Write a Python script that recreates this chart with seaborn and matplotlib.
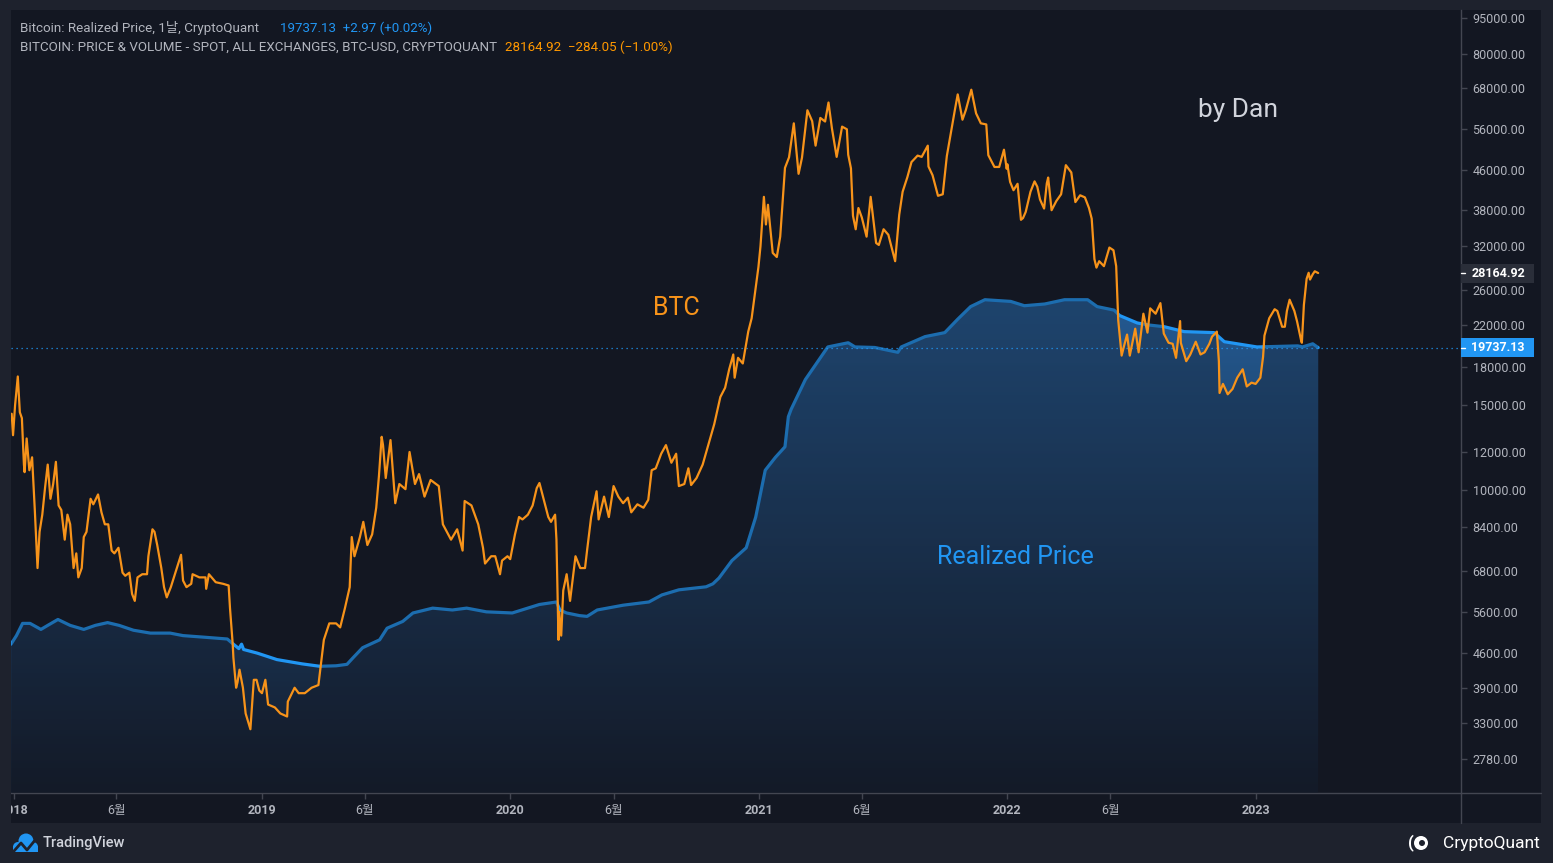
import matplotlib
matplotlib.use('Agg')
import matplotlib.pyplot as plt
import matplotlib.dates as mdates
import numpy as np
import pandas as pd
import seaborn as sns
from matplotlib.colors import LinearSegmentedColormap
from matplotlib.image import AxesImage
from matplotlib.patches import Rectangle, PathPatch, Circle
from matplotlib.lines import Line2D
from matplotlib.ticker import FixedLocator, NullLocator, FuncFormatter
from matplotlib.transforms import IdentityTransform

W, H = 1553, 863

# BTC price (CryptoQuant, all exchanges)
btc_dates = [
    '2017-12-29', '2017-12-31', '2018-01-03', '2018-01-07', '2018-01-10', '2018-01-13', '2018-01-16', '2018-01-17',
    '2018-01-20', '2018-01-24', '2018-01-28', '2018-02-01', '2018-02-05', '2018-02-08', '2018-02-12', '2018-02-16',
    '2018-02-20', '2018-02-24', '2018-02-28', '2018-03-04', '2018-03-08', '2018-03-12', '2018-03-17', '2018-03-21',
    '2018-03-25', '2018-03-30', '2018-04-03', '2018-04-06', '2018-04-11', '2018-04-14', '2018-04-18', '2018-04-24',
    '2018-04-28', '2018-05-05', '2018-05-10', '2018-05-15', '2018-05-20', '2018-05-25', '2018-05-29', '2018-06-04',
    '2018-06-10', '2018-06-14', '2018-06-20', '2018-06-24', '2018-06-28', '2018-07-02', '2018-07-09', '2018-07-16',
    '2018-07-18', '2018-07-24', '2018-07-27', '2018-07-31', '2018-08-06', '2018-08-10', '2018-08-14', '2018-08-20',
    '2018-08-26', '2018-09-04', '2018-09-07', '2018-09-12', '2018-09-19', '2018-09-21', '2018-10-01', '2018-10-10',
    '2018-10-11', '2018-10-15', '2018-10-25', '2018-11-05', '2018-11-13', '2018-11-15', '2018-11-19', '2018-11-20',
    '2018-11-24', '2018-11-26', '2018-11-29', '2018-12-04', '2018-12-08', '2018-12-15', '2018-12-20', '2018-12-24',
    '2018-12-28', '2019-01-01', '2019-01-06', '2019-01-10', '2019-01-20', '2019-01-28', '2019-02-07', '2019-02-08',
    '2019-02-18', '2019-02-24', '2019-03-05', '2019-03-15', '2019-03-25', '2019-04-02', '2019-04-10', '2019-04-20',
    '2019-04-26', '2019-05-03', '2019-05-10', '2019-05-13', '2019-05-17', '2019-05-25', '2019-05-30', '2019-06-05',
    '2019-06-12', '2019-06-18', '2019-06-22', '2019-06-26', '2019-06-28', '2019-07-02', '2019-07-09', '2019-07-16',
    '2019-07-22', '2019-07-31', '2019-08-06', '2019-08-14', '2019-08-20', '2019-08-28', '2019-09-06', '2019-09-18',
    '2019-09-24', '2019-10-06', '2019-10-15', '2019-10-23', '2019-10-26', '2019-11-05', '2019-11-15', '2019-11-22',
    '2019-11-25', '2019-12-04', '2019-12-10', '2019-12-17', '2019-12-20', '2019-12-28', '2020-01-01', '2020-01-08',
    '2020-01-14', '2020-01-19', '2020-01-27', '2020-02-03', '2020-02-09', '2020-02-13', '2020-02-19', '2020-02-26',
    '2020-03-01', '2020-03-07', '2020-03-09', '2020-03-12', '2020-03-13', '2020-03-16', '2020-03-19', '2020-03-24',
    '2020-03-29', '2020-04-06', '2020-04-13', '2020-04-20', '2020-04-23', '2020-04-29', '2020-05-07', '2020-05-10',
    '2020-05-18', '2020-05-25', '2020-06-01', '2020-06-08', '2020-06-15', '2020-06-22', '2020-06-27', '2020-07-06',
    '2020-07-15', '2020-07-22', '2020-07-27', '2020-08-02', '2020-08-10', '2020-08-17', '2020-08-25', '2020-09-01',
    '2020-09-05', '2020-09-13', '2020-09-19', '2020-09-23', '2020-10-01', '2020-10-10', '2020-10-21', '2020-10-27',
    '2020-11-05', '2020-11-12', '2020-11-18', '2020-11-24', '2020-11-26', '2020-12-01', '2020-12-08', '2020-12-16',
    '2020-12-21', '2020-12-27', '2020-12-31', '2021-01-03', '2021-01-08', '2021-01-11', '2021-01-14', '2021-01-21',
    '2021-01-27', '2021-02-01', '2021-02-08', '2021-02-14', '2021-02-21', '2021-02-28', '2021-03-05', '2021-03-13',
    '2021-03-20', '2021-03-25', '2021-04-01', '2021-04-08', '2021-04-13', '2021-04-18', '2021-04-25', '2021-05-03',
    '2021-05-10', '2021-05-12', '2021-05-16', '2021-05-19', '2021-05-23', '2021-05-27', '2021-06-01', '2021-06-08',
    '2021-06-14', '2021-06-22', '2021-06-26', '2021-07-03', '2021-07-10', '2021-07-20', '2021-07-26', '2021-07-31',
    '2021-08-07', '2021-08-13', '2021-08-22', '2021-08-28', '2021-09-06', '2021-09-07', '2021-09-13', '2021-09-21',
    '2021-09-28', '2021-10-04', '2021-10-10', '2021-10-16', '2021-10-20', '2021-10-27', '2021-11-01', '2021-11-09',
    '2021-11-16', '2021-11-23', '2021-11-28', '2021-12-01', '2021-12-04', '2021-12-13', '2021-12-20', '2021-12-27',
    '2021-12-31', '2022-01-01', '2022-01-05', '2022-01-10', '2022-01-16', '2022-01-21', '2022-01-24', '2022-01-28',
    '2022-02-04', '2022-02-10', '2022-02-14', '2022-02-18', '2022-02-24', '2022-02-28', '2022-03-02', '2022-03-07',
    '2022-03-14', '2022-03-21', '2022-03-28', '2022-04-01', '2022-04-05', '2022-04-11', '2022-04-18', '2022-04-25',
    '2022-05-01', '2022-05-05', '2022-05-09', '2022-05-12', '2022-05-16', '2022-05-23', '2022-05-31', '2022-06-06',
    '2022-06-10', '2022-06-13', '2022-06-18', '2022-06-22', '2022-06-26', '2022-06-30', '2022-07-08', '2022-07-13',
    '2022-07-20', '2022-07-26', '2022-07-30', '2022-08-07', '2022-08-14', '2022-08-19', '2022-08-26', '2022-09-01',
    '2022-09-06', '2022-09-12', '2022-09-13', '2022-09-21', '2022-09-27', '2022-10-05', '2022-10-12', '2022-10-18',
    '2022-10-25', '2022-10-29', '2022-11-05', '2022-11-08', '2022-11-09', '2022-11-14', '2022-11-21', '2022-11-28',
    '2022-12-05', '2022-12-13', '2022-12-19', '2022-12-26', '2023-01-01', '2023-01-08', '2023-01-12', '2023-01-14',
    '2023-01-21', '2023-01-29', '2023-02-02', '2023-02-09', '2023-02-13', '2023-02-16', '2023-02-20', '2023-02-27',
    '2023-03-03', '2023-03-09', '2023-03-10', '2023-03-13', '2023-03-17', '2023-03-20', '2023-03-22', '2023-03-26',
    '2023-03-29', '2023-04-03',
]
btc_prices = [
    14400, 13000, 15000, 17200, 14500, 14100, 11300, 10900,
    12800, 11000, 11700, 9100, 6900, 8200, 8900, 10100,
    11300, 9600, 10300, 11450, 9300, 9100, 7900, 8900,
    8500, 6900, 7400, 6600, 6900, 8000, 8200, 9600,
    9350, 9800, 9000, 8500, 8500, 7500, 7400, 7600,
    6750, 6650, 6750, 6100, 5900, 6600, 6700, 6700,
    7300, 8300, 8200, 7700, 6900, 6300, 6000, 6300,
    6700, 7350, 6500, 6300, 6400, 6700, 6600, 6600,
    6250, 6700, 6450, 6400, 6350, 5700, 4800, 4500,
    3900, 4000, 4250, 3900, 3450, 3200, 4050, 4050,
    3850, 3800, 4050, 3600, 3550, 3450, 3400, 3650,
    3900, 3800, 3800, 3900, 3950, 4900, 5300, 5300,
    5200, 5700, 6300, 8000, 7300, 8000, 8600, 7700,
    8100, 9200, 10700, 12900, 12400, 10600, 12700, 9400,
    10300, 10050, 12000, 10300, 10800, 9700, 10500, 10200,
    8500, 7900, 8300, 7500, 9500, 9300, 8500, 7600,
    7050, 7300, 7300, 6700, 7150, 7300, 7200, 8100,
    8800, 8700, 8900, 9300, 10100, 10350, 9600, 8800,
    8600, 8900, 7900, 4900, 5600, 5000, 6200, 6700,
    5900, 7300, 6900, 6900, 7500, 8800, 9950, 8700,
    9700, 8800, 10200, 9700, 9400, 9650, 9000, 9350,
    9200, 9550, 11000, 11100, 11900, 12400, 11400, 11900,
    10200, 10300, 11100, 10250, 10600, 11300, 12800, 13700,
    15600, 16300, 17800, 19100, 17100, 18800, 18300, 21300,
    22700, 26300, 29000, 32000, 40500, 35500, 39000, 31000,
    30400, 33500, 46500, 48900, 57500, 45200, 48800, 61200,
    58100, 51700, 59000, 58000, 63500, 56200, 49000, 56600,
    55900, 49500, 46400, 37000, 34700, 38400, 36700, 33500,
    40500, 32500, 32200, 34700, 33800, 29800, 37200, 41500,
    44500, 47800, 49300, 49000, 51700, 46800, 44900, 40700,
    41000, 49200, 55000, 61500, 66000, 58500, 61300, 67500,
    60300, 57500, 57300, 57200, 49400, 46700, 46700, 50700,
    46300, 47300, 43500, 41800, 43100, 36300, 36600, 37700,
    41500, 43600, 42500, 40000, 38300, 43200, 44400, 38000,
    39700, 41000, 47100, 46300, 45500, 39500, 40800, 40400,
    38400, 36500, 30100, 28900, 29800, 29100, 31800, 31400,
    29100, 22500, 19000, 20000, 21000, 19000, 21600, 19300,
    23200, 21200, 23800, 23200, 24400, 21100, 20200, 20100,
    18800, 22400, 20200, 18500, 19100, 20300, 19100, 19300,
    20100, 20800, 21300, 18500, 15900, 16600, 15800, 16200,
    17100, 17800, 16400, 16700, 16600, 17100, 18900, 20900,
    22700, 23700, 23500, 21800, 21800, 23500, 24800, 23500,
    22350, 20400, 20200, 24200, 27400, 28200, 27300, 28000,
    28400, 28165,
]

# Bitcoin realized price
rp_dates = [
    '2017-12-28', '2018-01-05', '2018-01-14', '2018-01-25', '2018-02-10', '2018-02-20', '2018-03-07', '2018-03-25',
    '2018-04-14', '2018-05-01', '2018-05-19', '2018-06-05', '2018-06-26', '2018-07-21', '2018-08-19', '2018-09-07',
    '2018-10-10', '2018-11-11', '2018-11-20', '2018-11-28', '2018-12-02', '2018-12-05', '2018-12-25', '2019-01-23',
    '2019-03-01', '2019-03-27', '2019-04-20', '2019-05-06', '2019-05-15', '2019-05-29', '2019-06-23', '2019-07-04',
    '2019-07-27', '2019-08-11', '2019-09-09', '2019-10-08', '2019-10-29', '2019-11-27', '2020-01-04', '2020-02-13',
    '2020-03-09', '2020-03-14', '2020-03-24', '2020-04-12', '2020-04-23', '2020-05-08', '2020-06-15', '2020-07-23',
    '2020-08-11', '2020-09-05', '2020-10-15', '2020-10-25', '2020-11-03', '2020-11-22', '2020-12-13', '2020-12-27',
    '2021-01-10', '2021-01-25', '2021-02-08', '2021-02-13', '2021-02-17', '2021-03-10', '2021-04-12', '2021-05-12',
    '2021-05-22', '2021-06-20', '2021-07-24', '2021-07-29', '2021-09-02', '2021-10-01', '2021-10-20', '2021-11-08',
    '2021-11-29', '2022-01-06', '2022-01-26', '2022-02-25', '2022-03-26', '2022-04-29', '2022-05-13', '2022-06-07',
    '2022-06-15', '2022-07-11', '2022-07-26', '2022-08-20', '2022-09-18', '2022-11-01', '2022-11-16', '2023-01-03',
    '2023-03-04', '2023-03-11', '2023-03-26', '2023-04-03',
]
rp_prices = [
    4800, 5000, 5300, 5300, 5150, 5250, 5400, 5250,
    5150, 5250, 5320, 5250, 5130, 5060, 5060, 5000,
    4960, 4920, 4800, 4700, 4800, 4680, 4600, 4460,
    4370, 4320, 4330, 4360, 4500, 4720, 4900, 5180,
    5350, 5570, 5700, 5650, 5700, 5600, 5570, 5800,
    5870, 5650, 5570, 5500, 5480, 5650, 5780, 5870,
    6070, 6220, 6310, 6400, 6580, 7150, 7600, 8800,
    11000, 11700, 12300, 14200, 14700, 16950, 19800, 20200,
    19800, 19750, 19300, 19800, 20800, 21200, 22600, 24000,
    24800, 24600, 24100, 24300, 24800, 24800, 24000, 23600,
    23000, 22200, 22000, 21800, 21300, 21200, 20300, 19800,
    19900, 19800, 20100, 19737,
]

last_rp = 19737.13
last_btc = 28164.92

y_ticks = [2780, 3300, 3900, 4600, 5600, 6800, 8400, 10000, 12000, 15000,
           18000, 22000, 26000, 32000, 38000, 46000, 56000, 68000, 80000, 95000]
x_tick_dates = ['2018-01-01', '2018-06-01', '2019-01-01', '2019-06-01', '2020-01-01', '2020-06-01',
                '2021-01-01', '2021-06-01', '2022-01-01', '2022-06-01', '2023-01-01']
x_tick_labels = ['2018', '6월', '2019', '6월', '2020', '6월', '2021', '6월', '2022', '6월', '2023']

BG = '#131722'
FRAME = '#1e222d'
AXIS = '#434651'
TXT = '#b2b5be'
BLUE = '#2196f3'
ORANGE = '#f7931a'

sns.set_theme(style='dark')
plt.rcParams['font.family'] = ['Roboto', 'Noto Sans CJK KR', 'DejaVu Sans']
plt.rcParams['axes.unicode_minus'] = True

fig = plt.figure(figsize=(W / 100, H / 100), dpi=100, facecolor=FRAME)
ID = IdentityTransform()


def P(x, y):
    # picture pixel -> display coords
    return (x, H - y)


# dark chart pane (plot + price scale + time scale)
fig.add_artist(Rectangle(P(11, 823), 1530, 813, transform=ID, facecolor=BG, edgecolor='none', zorder=-1))

ax = fig.add_axes([11 / W, 70 / H, 1450 / W, 783 / H])
ax.set_facecolor(BG)

btc_x = pd.to_datetime(btc_dates)
rp_x = pd.to_datetime(rp_dates)

# realized price area with vertical gradient
grad_cmap = LinearSegmentedColormap.from_list('rp', ['#141c2b', '#245a92'])
grad = np.clip(np.linspace(0, 1, 400) / 0.63, 0, 1).reshape(-1, 1)
im = AxesImage(ax, cmap=grad_cmap, interpolation='bilinear', origin='lower',
               extent=(0, 1, 0, 1), transform=ax.transAxes, zorder=1)
im.set_data(grad)
im.set_clim(0, 1)
ax.add_image(im)
area = ax.fill_between(rp_x, rp_prices, 100, facecolor='none', edgecolor='none', zorder=1)
clip = PathPatch(area.get_paths()[0], transform=ax.transData, facecolor='none', edgecolor='none')
ax.add_patch(clip)
im.set_clip_path(clip)

sns.lineplot(x=rp_x, y=rp_prices, ax=ax, color=BLUE, linewidth=2.3, zorder=2)

# BTC series shading dims what lies beneath its line
ax.fill_between(btc_x, btc_prices, 100, color=BG, alpha=0.32, linewidth=0, zorder=3)
ax.axhline(last_rp, color=BLUE, linestyle=(0, (1, 3)), linewidth=0.9, zorder=3.5)
sns.lineplot(x=btc_x, y=btc_prices, ax=ax, color=ORANGE, linewidth=1.6, zorder=4)

ax.set_yscale('log')
ax.set_xlim(pd.Timestamp('2017-12-28'), pd.Timestamp('2023-10-30'))
ax.set_ylim(2361, 98700)
ax.yaxis.set_major_locator(FixedLocator(y_ticks))
ax.yaxis.set_minor_locator(NullLocator())
ax.yaxis.set_major_formatter(FuncFormatter(lambda v, p: f'{v:.2f}'))
ax.yaxis.tick_right()
ax.set_xticks(mdates.date2num(pd.to_datetime(x_tick_dates)))
ax.set_xticklabels(x_tick_labels)
for lab in ax.get_xticklabels():
    if lab.get_text() != '6월':
        lab.set_fontweight('bold')
ax.tick_params(axis='y', which='major', length=4, width=1, color=AXIS, labelcolor=TXT,
               labelsize=9, pad=4.3, left=False, right=True, labelleft=False, labelright=True)
ax.tick_params(axis='x', which='major', length=4, width=1, color=AXIS, labelcolor=TXT,
               labelsize=9, pad=3.6, bottom=True)
ax.set_xlabel('')
ax.set_ylabel('')
ax.grid(False)
for side in ['top', 'left']:
    ax.spines[side].set_visible(False)
for side in ['right', 'bottom']:
    ax.spines[side].set_visible(True)
    ax.spines[side].set_color(AXIS)
    ax.spines[side].set_linewidth(1)

# axis line extensions into the scale strips
fig.add_artist(Line2D([1461, 1461], [H - 793, H - 823], transform=ID, color=AXIS, linewidth=1))
fig.add_artist(Line2D([1461, 1541], [H - 793, H - 793], transform=ID, color=AXIS, linewidth=1))
# frame covers the cut-off start of the first year label
fig.add_artist(Rectangle(P(0, 824), 11, 32, transform=ID, facecolor=FRAME, edgecolor='none', zorder=5))

# last value labels on the price scale
for val, fc in [(last_btc, '#2a2e39'), (last_rp, BLUE)]:
    yp = ax.get_yaxis_transform().transform((1.0, val))[1]
    fig.add_artist(Rectangle((1461, yp - 9.5), 73, 19, transform=ID, facecolor=fc, edgecolor='none', zorder=6))
    fig.add_artist(Line2D([1461, 1465], [yp, yp], transform=ID, color='white', linewidth=1, zorder=7))
    fig.text(1498, yp, f'{val:.2f}', transform=ID, ha='center', va='center', color='white',
             fontsize=9, fontweight='bold', zorder=7)

# legend lines
renderer = fig.canvas.get_renderer()
t1 = fig.text(*P(20, 28), 'Bitcoin: Realized Price, 1날, CryptoQuant', transform=ID,
              color=TXT, fontsize=9.6, ha='left', va='center')
x1 = max(280, t1.get_window_extent(renderer).x1 + 8)
fig.text(x1, H - 28, f'{last_rp:.2f}  +2.97 (+0.02%)', transform=ID, color=BLUE, fontsize=9.6,
         ha='left', va='center')
t2 = fig.text(*P(20, 47), 'BITCOIN: PRICE & VOLUME - SPOT, ALL EXCHANGES, BTC-USD, CRYPTOQUANT', transform=ID,
              color=TXT, fontsize=9.6, ha='left', va='center')
x2 = max(494, t2.get_window_extent(renderer).x1 + 8)
fig.text(x2, H - 47, f'{last_btc:.2f}  \u2212284.05 (\u22121.00%)', transform=ID, color='#ff9800',
         fontsize=9.6, ha='left', va='center')

# chart annotations
fig.text(*P(1238, 110), 'by Dan', transform=ID, color='#d1d4dc', fontsize=19, ha='center', va='center')
fig.text(*P(676, 308), 'BTC', transform=ID, color=ORANGE, fontsize=18, ha='center', va='center')
fig.text(*P(1015, 557), 'Realized Price', transform=ID, color=BLUE, fontsize=18, ha='center', va='center')

# footer logos
for cx, cy, r in [(18, 847, 5), (26, 841, 7.5), (33, 847, 5)]:
    fig.add_artist(Circle(P(cx, cy), r, transform=ID, facecolor='#2196f3', edgecolor='none', zorder=6))
fig.add_artist(Rectangle(P(13, 852), 25, 6, transform=ID, facecolor='#2196f3', edgecolor='none', zorder=6))
fig.add_artist(Line2D([P(14, 851)[0], P(21, 843)[0], P(27, 850)[0], P(36, 839)[0]],
                      [P(14, 851)[1], P(21, 843)[1], P(27, 850)[1], P(36, 839)[1]],
                      transform=ID, color=FRAME, linewidth=2, zorder=7))
fig.text(*P(43, 843), 'TradingView', transform=ID, color='#d1d4dc', fontsize=10.5, ha='left', va='center',
         fontweight='medium')
fig.add_artist(Circle(P(1421, 843), 7, transform=ID, facecolor='white', edgecolor='none', zorder=6))
fig.add_artist(Circle(P(1422, 843), 3, transform=ID, facecolor=FRAME, edgecolor='none', zorder=7))
fig.text(*P(1411, 843), '(', transform=ID, color='white', fontsize=12, ha='center', va='center', fontweight='bold')
fig.text(*P(1540, 843), 'CryptoQuant', transform=ID, color='white', fontsize=12.5, ha='right', va='center')

fig.savefig('out.png', dpi=100, facecolor=fig.get_facecolor())
